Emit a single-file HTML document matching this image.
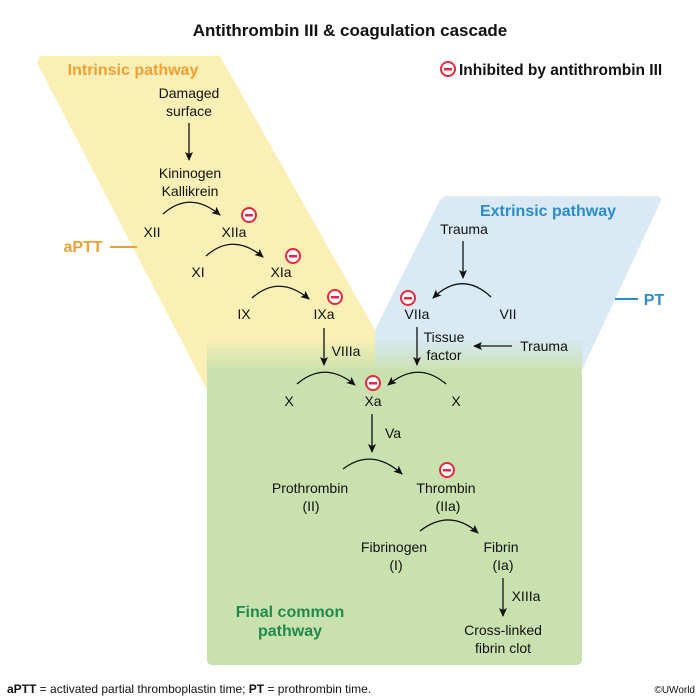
<!DOCTYPE html>
<html><head><meta charset="utf-8"><style>
html,body{margin:0;padding:0;background:#fff;}
svg{display:block;font-family:"Liberation Sans",Arial,sans-serif;}
</style></head><body>
<svg width="700" height="700" viewBox="0 0 700 700" xmlns="http://www.w3.org/2000/svg">
<defs>
<linearGradient id="fade" x1="0" y1="0" x2="0" y2="1">
<stop offset="0" stop-color="#c9e1ae" stop-opacity="0"/>
<stop offset="1" stop-color="#c9e1ae" stop-opacity="1"/>
</linearGradient>
<marker id="ah" markerWidth="10" markerHeight="10" refX="8" refY="5" orient="auto" markerUnits="userSpaceOnUse">
<path d="M0,1 L9,5 L0,9 L2,5 Z" fill="#111"/>
</marker>
</defs>
<text x="350" y="36" text-anchor="middle" font-size="17" font-weight="bold" fill="#111">Antithrombin III &amp; coagulation cascade</text>
<path d="M40,56 L220,56 L375,330 L375,390 L207,390 L37,63 Z" fill="#faf0b6"/>
<path d="M445,196 L656,196 Q663,196 660,203 L582,370 L375,370 L375,330 L440,200 Z" fill="#d9eaf5"/>
<rect x="207" y="370" width="375" height="295" rx="5" fill="#c9e1ae"/>
<rect x="207" y="338" width="375" height="34" fill="url(#fade)"/>
<g font-size="14" fill="#111" text-anchor="middle">
<text x="133" y="75" fill="#eea033" font-weight="bold" font-size="16">Intrinsic pathway</text>
<circle cx="448" cy="69" r="7" fill="#fff" stroke="#e8283c" stroke-width="2"/><rect x="444" y="68" width="8" height="2.5" fill="#e8283c"/>
<text x="459" y="75" text-anchor="start" font-weight="bold" font-size="15.5">Inhibited by antithrombin III</text>
<text x="189" y="98">Damaged</text><text x="189" y="116">surface</text>
<line x1="189" y1="123" x2="189" y2="160" stroke="#111" stroke-width="1.3" marker-end="url(#ah)"/>
<text x="190" y="178">Kininogen</text><text x="190" y="196">Kallikrein</text>
<text x="152" y="237">XII</text><text x="234" y="237">XIIa</text>
<path d="M163,214 Q190,190 220,215" fill="none" stroke="#111" stroke-width="1.3" marker-end="url(#ah)"/>
<text x="83" y="252" fill="#eea033" font-weight="bold" font-size="16">aPTT</text>
<line x1="110" y1="247" x2="137" y2="247" stroke="#eea033" stroke-width="2"/>
<text x="198" y="277">XI</text><text x="281" y="277">XIa</text>
<path d="M206,256 Q233,232 263,257" fill="none" stroke="#111" stroke-width="1.3" marker-end="url(#ah)"/>
<text x="244" y="319">IX</text><text x="324" y="319">IXa</text>
<path d="M252,298 Q279,274 309,299" fill="none" stroke="#111" stroke-width="1.3" marker-end="url(#ah)"/>
<line x1="324" y1="328" x2="324" y2="365" stroke="#111" stroke-width="1.3" marker-end="url(#ah)"/>
<text x="346" y="356">VIIIa</text>
<text x="548" y="216" fill="#2a8ccc" font-weight="bold" font-size="16">Extrinsic pathway</text>
<text x="464" y="234">Trauma</text>
<line x1="463" y1="241" x2="463" y2="278" stroke="#111" stroke-width="1.3" marker-end="url(#ah)"/>
<text x="417" y="319">VIIa</text><text x="508" y="319">VII</text>
<path d="M491,297 Q462,270 433,298" fill="none" stroke="#111" stroke-width="1.3" marker-end="url(#ah)"/>
<line x1="615" y1="299" x2="638" y2="299" stroke="#2a8ccc" stroke-width="2"/>
<text x="654" y="305" fill="#2a8ccc" font-weight="bold" font-size="16">PT</text>
<text x="444" y="342">Tissue</text><text x="444" y="360">factor</text>
<line x1="417" y1="327" x2="417" y2="365" stroke="#111" stroke-width="1.3" marker-end="url(#ah)"/>
<line x1="512" y1="346" x2="474" y2="346" stroke="#111" stroke-width="1.3" marker-end="url(#ah)"/>
<text x="544" y="351">Trauma</text>
<text x="289" y="406">X</text><text x="373" y="406">Xa</text><text x="456" y="406">X</text>
<path d="M297,384 Q325,360 355,385" fill="none" stroke="#111" stroke-width="1.3" marker-end="url(#ah)"/>
<path d="M446,384 Q418,360 388,385" fill="none" stroke="#111" stroke-width="1.3" marker-end="url(#ah)"/>
<line x1="372" y1="414" x2="372" y2="452" stroke="#111" stroke-width="1.3" marker-end="url(#ah)"/>
<text x="393" y="438">Va</text>
<text x="310" y="493">Prothrombin</text><text x="311" y="511">(II)</text>
<text x="446" y="493">Thrombin</text><text x="448" y="511">(IIa)</text>
<path d="M343,469 Q372,447 402,474" fill="none" stroke="#111" stroke-width="1.3" marker-end="url(#ah)"/>
<text x="394" y="552">Fibrinogen</text><text x="396" y="570">(I)</text>
<text x="501" y="552">Fibrin</text><text x="503" y="570">(Ia)</text>
<path d="M420,531 Q450,508 478,533" fill="none" stroke="#111" stroke-width="1.3" marker-end="url(#ah)"/>
<line x1="503" y1="578" x2="503" y2="616" stroke="#111" stroke-width="1.3" marker-end="url(#ah)"/>
<text x="526" y="601">XIIIa</text>
<text x="503" y="635">Cross-linked</text><text x="503" y="653">fibrin clot</text>
<text x="290" y="617" fill="#1f8a4c" font-weight="bold" font-size="16">Final common</text>
<text x="290" y="636" fill="#1f8a4c" font-weight="bold" font-size="16">pathway</text>
</g>
<g>
<circle cx="249" cy="215" r="7" fill="#fff" stroke="#e8283c" stroke-width="2"/><rect x="245" y="214" width="8" height="2.5" fill="#e8283c"/>
<circle cx="293" cy="256" r="7" fill="#fff" stroke="#e8283c" stroke-width="2"/><rect x="289" y="255" width="8" height="2.5" fill="#e8283c"/>
<circle cx="335" cy="297" r="7" fill="#fff" stroke="#e8283c" stroke-width="2"/><rect x="331" y="296" width="8" height="2.5" fill="#e8283c"/>
<circle cx="408" cy="298" r="7" fill="#fff" stroke="#e8283c" stroke-width="2"/><rect x="404" y="297" width="8" height="2.5" fill="#e8283c"/>
<circle cx="373" cy="383" r="7" fill="#fff" stroke="#e8283c" stroke-width="2"/><rect x="369" y="382" width="8" height="2.5" fill="#e8283c"/>
<circle cx="447" cy="470" r="7" fill="#fff" stroke="#e8283c" stroke-width="2"/><rect x="443" y="469" width="8" height="2.5" fill="#e8283c"/>
</g>
<text x="7" y="693" font-size="12" fill="#111"><tspan font-weight="bold">aPTT</tspan> = activated partial thromboplastin time; <tspan font-weight="bold">PT</tspan> = prothrombin time.</text>
<text x="695" y="693" font-size="10" fill="#111" text-anchor="end">©UWorld</text>
</svg>
</body></html>
